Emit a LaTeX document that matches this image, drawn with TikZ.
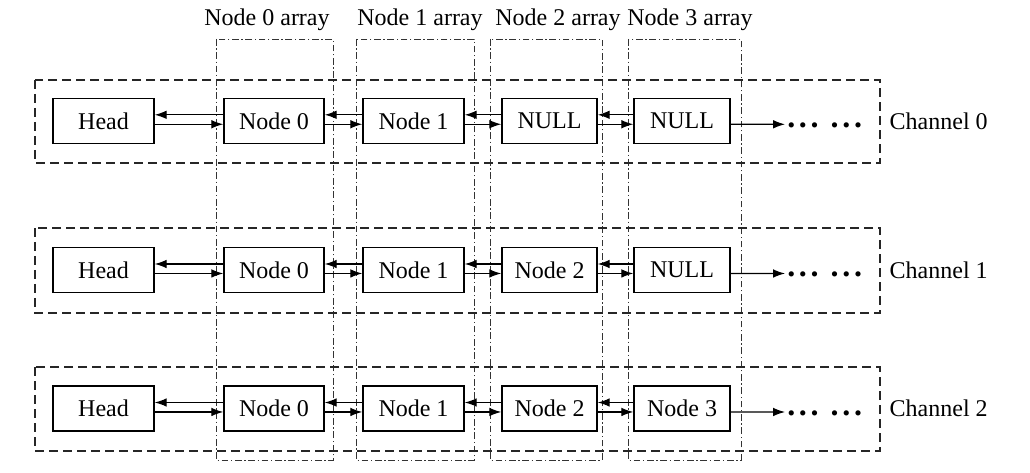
\documentclass[tikz,border=0pt]{standalone}
\usepackage{fontspec}
\setmainfont{Liberation Serif}
\usetikzlibrary{positioning,arrows.meta}

\begin{document}
\begin{tikzpicture}[x=0.75pt,y=-0.75pt,
    every node/.style={font=\fontsize{18}{20}\selectfont},
    cell/.style={draw,fill=white,line width=1.1pt,minimum height=33.75pt,inner sep=0pt},
    chanbox/.style={draw=black!85,line width=1.2pt,dash pattern=on 7pt off 3.5pt},
    arrbox/.style={draw=black!80,line width=0.7pt,dash pattern=on 5pt off 2pt on 1pt off 2pt},
    link/.style={-{Latex[length=9pt,width=6.5pt]},line width=0.9pt}]
    \useasboundingbox (0,0) rectangle (1030,473);
    % node arrays
    \foreach \i/\xa/\xb/\xl in {0/216/333/267,1/356/474/420,2/490/602/558,3/628/741/690} {
      \draw[arrbox] (\xa,39) rectangle (\xb,460);
      \node(a\i) at (\xl,20) {Node \i{} array};
    }
    % channels
    \foreach \r/\y/\ya/\yb/\p/\q in {0/120.8/80/163/NULL/NULL,1/270/228/313/Node 2/NULL,2/408.5/367/451/Node 2/Node 3} {
      \draw[chanbox] (35,\ya) rectangle (880,\yb);
      \node(ch\r) [anchor=west] at (885,\y) {Channel \r};
      \node(c\r0) [cell,minimum width=75.75pt] at (103.5,\y) {Head};
      \node(c\r1) [cell,minimum width=75pt] at (274,\y) {Node 0};
      \node(c\r2) [cell,minimum width=75.75pt] at (413.5,\y) {Node 1};
      \node(c\r3) [cell,minimum width=71.25pt] at (549.5,\y) {\p};
      \node(c\r4) [cell,minimum width=72pt] at (682,\y) {\q};
      \foreach \k/\j in {0/1,1/2,2/3,3/4} {
        \draw[link] ([yshift=4.5pt]c\r\j.west) -- ([yshift=4.5pt]c\r\k.east);
        \draw[link] ([yshift=-2.6pt]c\r\k.east) -- ([yshift=-2.6pt]c\r\j.west);
      }
      \node(d\r) [anchor=base west,inner sep=0pt,font=\fontsize{24}{24}\selectfont] at (787,\y+7)
        {\textbf{.\kern2.8pt.\kern2.8pt.\kern9pt.\kern2.8pt.\kern2.8pt.}};
      \coordinate(e\r) at (785,\y+3.5);
      \draw[link] ([yshift=-2.6pt]c\r4.east) -- (e\r);
    }
  \end{tikzpicture}
\end{document}
